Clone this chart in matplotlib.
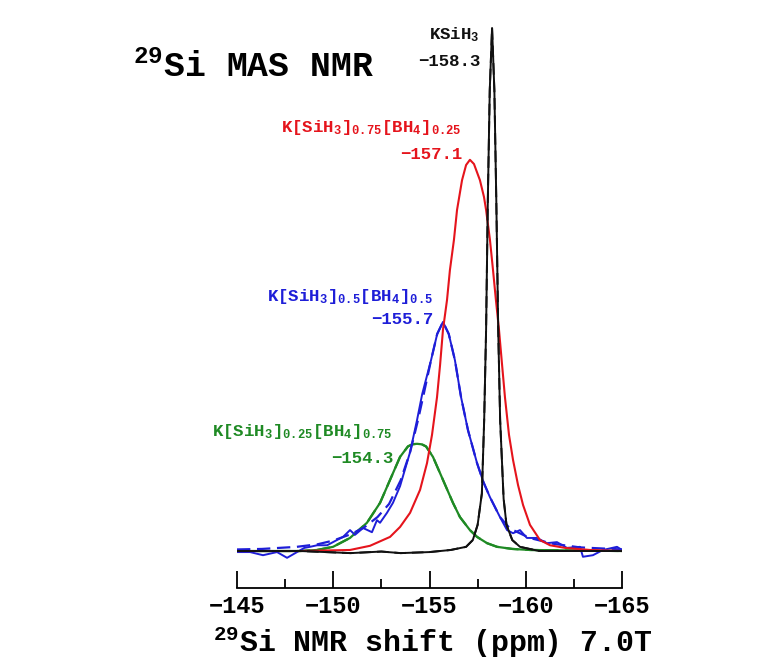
import matplotlib
matplotlib.use("Agg")
import matplotlib.pyplot as plt
from matplotlib.ticker import MultipleLocator

plt.rcParams['font.family'] = ['Liberation Mono', 'DejaVu Sans']
plt.rcParams['font.weight'] = 'bold'
plt.rcParams['mathtext.fontset'] = 'custom'
plt.rcParams['mathtext.rm'] = 'Liberation Mono:bold'
plt.rcParams['mathtext.it'] = 'Liberation Mono:bold'
plt.rcParams['mathtext.bf'] = 'Liberation Mono:bold'
plt.rcParams['mathtext.default'] = 'rm'

# spectra: shift (ppm) vs intensity (black peak = 100)
k_ppm = [-145, -148.3, -150.9, -152.5, -153.5, -155.0, -156.1, -156.9, -157.25, -157.5,
         -157.72, -157.84, -157.94, -158.03, -158.13, -158.25, -158.37, -158.47, -158.57,
         -158.67, -158.85, -159.0, -159.3, -159.7, -160.7, -165]
k_int = [0, 0, -0.4, -0.1, -0.4, -0.2, 0.2, 0.8, 2.1, 5.0, 11.0, 25.0, 42.3, 67.1, 88.1,
         100, 88.1, 67.1, 42.3, 25.0, 10.0, 5.0, 2.1, 0.8, 0, 0]

r_ppm = [-145, -148.3, -150.87, -151.91, -152.95, -153.47, -153.99, -154.51, -154.87,
         -155.13, -155.39, -155.55, -155.7, -155.91, -156.06, -156.27, -156.43, -156.69,
         -156.9, -157.1, -157.31, -157.62, -157.83, -157.94, -158.14, -158.3, -158.45,
         -158.61, -158.77, -158.92, -159.13, -159.34, -159.6, -159.86, -160.22, -160.74,
         -161.26, -162.04, -163.34, -165]
r_int = [0, 0, 0.2, 1.0, 2.7, 4.6, 7.3, 11.7, 16.8, 22.2, 29.4, 35.6, 42.3, 48.0, 53.7,
         59.5, 65.2, 70.9, 73.8, 74.8, 74.0, 70.9, 67.7, 65.2, 59.5, 53.7, 48.0, 42.3, 35.6,
         29.4, 22.2, 17.4, 12.6, 8.8, 5.0, 2.1, 1.1, 0.6, 0.2, 0]

b_ppm = [-145, -145.68, -146.35, -147.08, -147.6, -148.12, -148.5, -148.79, -149.16,
         -149.68, -150.19, -150.51, -150.87, -151.13, -151.55, -152.01, -152.27, -152.43,
         -152.79, -153.1, -153.47, -153.99, -154.35, -154.62, -155.08, -155.4, -155.7,
         -156.0, -156.32, -156.64, -157.0, -157.47, -157.8, -158.14, -158.66, -159.03,
         -159.34, -159.7, -160.06, -160.58, -161.1, -161.62, -162.14, -162.82, -162.97,
         -163.49, -164.01, -164.74, -165]
b_int = [-0.2, -0.2, -0.8, -0.2, -1.3, -0.2, 0.6, 0.8, 1.1, 1.1, 2.1, 2.7, 4.0, 3.1, 4.4,
         3.6, 5.9, 5.4, 7.3, 9.2, 12.4, 18.9, 25.0, 30.0, 36.5, 41.5, 43.8, 41.5, 36.5,
         29.4, 23.1, 16.8, 13.2, 10.3, 6.5, 4.0, 3.4, 4.0, 2.5, 2.5, 1.5, 1.7, 0.6, 0.8,
         -1.1, -0.8, 0.2, 0.8, 0.2]

b_fit_ppm = [-145, -146.3, -148.1, -149.2, -150.0, -150.9, -151.6, -152.3, -152.9, -153.5,
             -154.0, -154.4, -154.7, -155.08, -155.4, -155.7, -156.0, -156.32, -156.64,
             -157.0, -157.47, -157.8, -158.14, -158.66, -159.18, -160.2, -161.4, -162.8, -165]
b_fit_int = [0.3, 0.4, 0.8, 1.3, 2.0, 3.2, 4.5, 6.5, 9.0, 13.5, 19.0, 25.0, 30.0, 36.5,
             41.5, 43.8, 41.5, 36.5, 29.4, 23.1, 16.8, 13.2, 10.3, 6.5, 4.3, 2.5, 1.4, 0.7, 0.3]

g_ppm = [-145, -148.27, -149.16, -149.99, -150.87, -151.75, -152.43, -152.95, -153.47,
         -153.88, -154.1, -154.35, -154.6, -154.82, -155.18, -155.7, -156.22, -156.58,
         -157.1, -157.47, -157.99, -158.51, -159.3, -160.22, -165]
g_int = [0, 0, 0.2, 0.8, 2.5, 5.4, 9.2, 13.6, 18.0, 20.0, 20.4, 20.5, 20.4, 20.0, 18.0,
         13.6, 9.2, 6.5, 4.0, 2.7, 1.5, 0.8, 0.4, 0.2, 0]

c_black = '#111111'
c_red = '#e5141c'
c_blue = '#1e1ed8'
c_green = '#1f8a24'

fig = plt.figure(figsize=(7.68, 6.72), dpi=100)
ax = fig.add_axes([237 / 768, 1 - 588 / 672, 385 / 768, 568 / 672])

ax.plot(g_ppm, g_int, color=c_green, lw=1.6)
ax.plot(g_ppm, g_int, color=c_green, lw=1.6, ls=(0, (6, 3)))
ax.plot(b_ppm, b_int, color=c_blue, lw=1.4)
ax.plot(b_fit_ppm, b_fit_int, color=c_blue, lw=1.6, ls=(0, (6, 3)))
ax.plot(r_ppm, r_int, color=c_red, lw=1.5)
ax.plot(k_ppm, k_int, color=c_black, lw=1.4)
ax.plot(k_ppm, k_int, color=c_black, lw=1.4, ls=(0, (6, 3)))

fs = 12.5
ax.text(-157.62, 98.7, r'KSiH$_3$', color=c_black, fontsize=fs, ha='right', va='center')
ax.text(-157.62, 93.5, '\u2212158.3', color=c_black, fontsize=fs, ha='right', va='center')
ax.text(-156.69, 80.9, r'K[SiH$_3$]$_{0.75}$[BH$_4$]$_{0.25}$', color=c_red, fontsize=fs,
        ha='right', va='center')
ax.text(-156.69, 75.9, '\u2212157.1', color=c_red, fontsize=fs, ha='right', va='center')
ax.text(-155.18, 48.6, r'K[SiH$_3$]$_{0.5}$[BH$_4$]$_{0.5}$', color=c_blue, fontsize=fs,
        ha='right', va='center')
ax.text(-155.18, 44.2, '\u2212155.7', color=c_blue, fontsize=fs, ha='right', va='center')
ax.text(-153.10, 22.8, r'K[SiH$_3$]$_{0.25}$[BH$_4$]$_{0.75}$', color=c_green, fontsize=fs,
        ha='right', va='center')
ax.text(-153.10, 17.6, '\u2212154.3', color=c_green, fontsize=fs, ha='right', va='center')

ax.set_xlim(-145, -165)
ax.set_ylim(-7.07, 101.53)
for s in ['top', 'left', 'right']:
    ax.spines[s].set_visible(False)
ax.spines['bottom'].set_linewidth(1.3)
ax.set_yticks([])
ax.xaxis.set_major_locator(MultipleLocator(5))
ax.xaxis.set_minor_locator(MultipleLocator(2.5))
ax.tick_params(axis='x', which='major', direction='in', length=12, width=1.3,
               labelsize=17, pad=5)
ax.tick_params(axis='x', which='minor', direction='in', length=6.5, width=1.3)
ax.patch.set_visible(False)

fig.text(133 / 768, 1 - 77 / 672, r'$^{29}$Si MAS NMR', fontsize=25, va='baseline')
fig.text(213 / 768, 1 - 652 / 672, r'$^{29}$Si NMR shift (ppm) 7.0T', fontsize=21.5,
         va='baseline')

fig.savefig('out.png', dpi=100)
